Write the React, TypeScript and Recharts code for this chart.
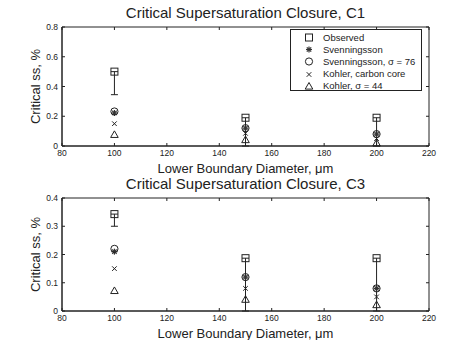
import React, { CSSProperties } from "react";
import {
    ScatterChart,
    Scatter,
    XAxis,
    YAxis,
    ErrorBar,
    ReferenceArea,
    Legend,
} from "recharts";

// lower boundary diameter, um
const diameters = [100, 150, 200];
const xTicks = [80, 100, 120, 140, 160, 180, 200, 220];

// C1 closure
const c1Observed = [0.5, 0.19, 0.19];
const c1ObservedLow = [0.345, 0, 0];
const c1Sven = [0.222, 0.12, 0.08];
const c1Sven76 = [0.232, 0.12, 0.08];
const c1KohlerCarbon = [0.15, 0.085, 0.05];
const c1Kohler44 = [0.075, 0.04, 0.018];
const c1Ticks = [0, 0.2, 0.4, 0.6, 0.8];

// C3 closure
const c3Observed = [0.343, 0.187, 0.187];
const c3ObservedLow = [0.3, 0, 0];
const c3Sven = [0.21, 0.12, 0.08];
const c3Sven76 = [0.22, 0.12, 0.08];
const c3KohlerCarbon = [0.15, 0.08, 0.05];
const c3Kohler44 = [0.071, 0.04, 0.021];
const c3Ticks = [0, 0.1, 0.2, 0.3, 0.4];

const legendNames = [
    "Observed",
    "Svenningsson",
    "Svenningsson, \u03c3 = 76",
    "Kohler, carbon core",
    "Kohler, \u03c3 = 44",
];

const FONT = "'Liberation Sans', Arial, Helvetica, sans-serif";
const INK = "#222";
const TICK_MARGIN = 4;
const TICK_LEN = 3;
const PLOT_W = 367;

const toPoints = (vals: number[]) =>
    diameters.map((d, i) => ({ x: d, y: vals[i] }));

const toObserved = (vals: number[], low: number[]) =>
    diameters.map((d, i) => ({ x: d, y: vals[i], err: [vals[i] - low[i], 0] }));

// marker shapes (MATLAB style)
const SquareMark = ({ cx, cy }: any) => (
    <rect x={cx - 3.5} y={cy - 3.5} width={7} height={7} fill="none" stroke={INK} strokeWidth={1} />
);
const StarMark = ({ cx, cy }: any) => (
    <g stroke="#333" strokeWidth={1.2}>
        <line x1={cx - 3} y1={cy} x2={cx + 3} y2={cy} />
        <line x1={cx} y1={cy - 3} x2={cx} y2={cy + 3} />
        <line x1={cx - 2.2} y1={cy - 2.2} x2={cx + 2.2} y2={cy + 2.2} />
        <line x1={cx - 2.2} y1={cy + 2.2} x2={cx + 2.2} y2={cy - 2.2} />
    </g>
);
const CircleMark = ({ cx, cy }: any) => (
    <circle cx={cx} cy={cy} r={3.6} fill="none" stroke={INK} strokeWidth={1} />
);
const CrossMark = ({ cx, cy }: any) => (
    <g stroke={INK} strokeWidth={1}>
        <line x1={cx - 2.3} y1={cy - 2.3} x2={cx + 2.3} y2={cy + 2.3} />
        <line x1={cx - 2.3} y1={cy + 2.3} x2={cx + 2.3} y2={cy - 2.3} />
    </g>
);
const TriangleMark = ({ cx, cy }: any) => (
    <polygon
        points={`${cx},${cy - 4} ${cx - 3.8},${cy + 2.6} ${cx + 3.8},${cy + 2.6}`}
        fill="none"
        stroke={INK}
        strokeWidth={1}
    />
);
const markers = [SquareMark, StarMark, CircleMark, CrossMark, TriangleMark];

function XTick({ x, y, payload, plotH }: any) {
    const base = y - TICK_MARGIN;
    return (
        <g>
            <line x1={x} x2={x} y1={base} y2={base - TICK_LEN} stroke={INK} />
            <line x1={x} x2={x} y1={base - plotH} y2={base - plotH + TICK_LEN} stroke={INK} />
            <text x={x} y={y} dy="0.71em" textAnchor="middle" fontSize={8.5} fill={INK} fontFamily={FONT}>
                {payload.value}
            </text>
        </g>
    );
}

function YTick({ x, y, payload }: any) {
    const base = x + TICK_MARGIN;
    return (
        <g>
            <line x1={base} x2={base + TICK_LEN} y1={y} y2={y} stroke={INK} />
            <line x1={base + PLOT_W} x2={base + PLOT_W - TICK_LEN} y1={y} y2={y} stroke={INK} />
            <text x={x} y={y} dy="0.355em" textAnchor="end" fontSize={8.5} fill={INK} fontFamily={FONT}>
                {payload.value}
            </text>
        </g>
    );
}

function LegendBox() {
    return (
        <div style={legendStyle}>
            {legendNames.map((name, i) => {
                const Mark = markers[i];
                return (
                    <div key={name} style={legendRowStyle}>
                        <svg width={12} height={12} style={{ marginRight: 8 }}>
                            <Mark cx={6} cy={6.5} />
                        </svg>
                        <span>{name}</span>
                    </div>
                );
            })}
        </div>
    );
}

function ClosurePlot({
    title,
    observed,
    observedLow,
    sven,
    sven76,
    kohlerCarbon,
    kohler44,
    yTicks,
    height,
    top,
    plotTop,
    showLegend,
}: any) {
    const yMax = yTicks[yTicks.length - 1];
    const plotH = height - plotTop - 29;
    return (
        <div style={{ position: "absolute", left: 0, top, width: 474, height }}>
            <div style={{ ...titleStyle, top: plotTop - 23 }}>{title}</div>
            <ScatterChart
                width={474}
                height={height}
                margin={{ top: plotTop, right: 45, bottom: 0, left: 22 }}
                style={{ fontFamily: FONT }}
            >
                <XAxis
                    type="number"
                    dataKey="x"
                    domain={[80, 220]}
                    ticks={xTicks}
                    height={29}
                    tickSize={0}
                    tickMargin={TICK_MARGIN}
                    tickLine={false}
                    axisLine={{ stroke: INK }}
                    tick={<XTick plotH={plotH} />}
                    label={{
                        value: "Lower Boundary Diameter, \u03bcm",
                        position: "insideBottom",
                        offset: 2,
                        fontSize: 13,
                        fill: INK,
                        fontFamily: FONT,
                    }}
                />
                <YAxis
                    type="number"
                    dataKey="y"
                    domain={[0, yMax]}
                    ticks={yTicks}
                    width={40}
                    tickSize={0}
                    tickMargin={TICK_MARGIN}
                    tickLine={false}
                    axisLine={{ stroke: INK }}
                    tick={<YTick />}
                    label={{
                        value: "Critical ss, %",
                        angle: -90,
                        position: "insideLeft",
                        offset: 13,
                        fontSize: 13,
                        fill: INK,
                        fontFamily: FONT,
                        style: { textAnchor: "middle" },
                    }}
                />
                <ReferenceArea x1={80} x2={220} y1={0} y2={yMax} fill="none" stroke={INK} strokeWidth={1} />
                <Scatter data={toPoints(kohler44)} shape={<TriangleMark />} isAnimationActive={false} />
                <Scatter data={toPoints(kohlerCarbon)} shape={<CrossMark />} isAnimationActive={false} />
                <Scatter data={toPoints(sven)} shape={<StarMark />} isAnimationActive={false} />
                <Scatter data={toPoints(sven76)} shape={<CircleMark />} isAnimationActive={false} />
                <Scatter data={toObserved(observed, observedLow)} shape={<SquareMark />} isAnimationActive={false}>
                    <ErrorBar dataKey="err" direction="y" width={3.5} stroke={INK} strokeWidth={1} />
                </Scatter>
                {showLegend && (
                    <Legend
                        layout="vertical"
                        align="center"
                        verticalAlign="middle"
                        content={() => <LegendBox />}
                        wrapperStyle={{ left: 290, top: 29, width: "auto" }}
                    />
                )}
            </ScatterChart>
        </div>
    );
}

export default function App() {
    return (
        <div style={pageStyle}>
            <ClosurePlot
                title="Critical Supersaturation Closure, C1"
                observed={c1Observed}
                observedLow={c1ObservedLow}
                sven={c1Sven}
                sven76={c1Sven76}
                kohlerCarbon={c1KohlerCarbon}
                kohler44={c1Kohler44}
                yTicks={c1Ticks}
                height={175}
                top={0}
                plotTop={27}
                showLegend
            />
            <ClosurePlot
                title="Critical Supersaturation Closure, C3"
                observed={c3Observed}
                observedLow={c3ObservedLow}
                sven={c3Sven}
                sven76={c3Sven76}
                kohlerCarbon={c3KohlerCarbon}
                kohler44={c3Kohler44}
                yTicks={c3Ticks}
                height={165}
                top={175}
                plotTop={23}
            />
        </div>
    );
}

const pageStyle: CSSProperties = {
    position: "absolute",
    left: 0,
    top: 0,
    width: 474,
    height: 350,
    background: "#fff",
    fontFamily: FONT,
};

const titleStyle: CSSProperties = {
    position: "absolute",
    left: 62,
    width: 367,
    textAlign: "center",
    fontSize: 15,
    lineHeight: "18px",
    color: INK,
};

const legendStyle: CSSProperties = {
    width: 132,
    height: 62,
    boxSizing: "border-box",
    border: `1px solid ${INK}`,
    background: "#fff",
    padding: "1px 0 0 12px",
    fontSize: 9.5,
    color: INK,
    fontFamily: FONT,
};

const legendRowStyle: CSSProperties = {
    display: "flex",
    alignItems: "center",
    height: 12.2,
};
